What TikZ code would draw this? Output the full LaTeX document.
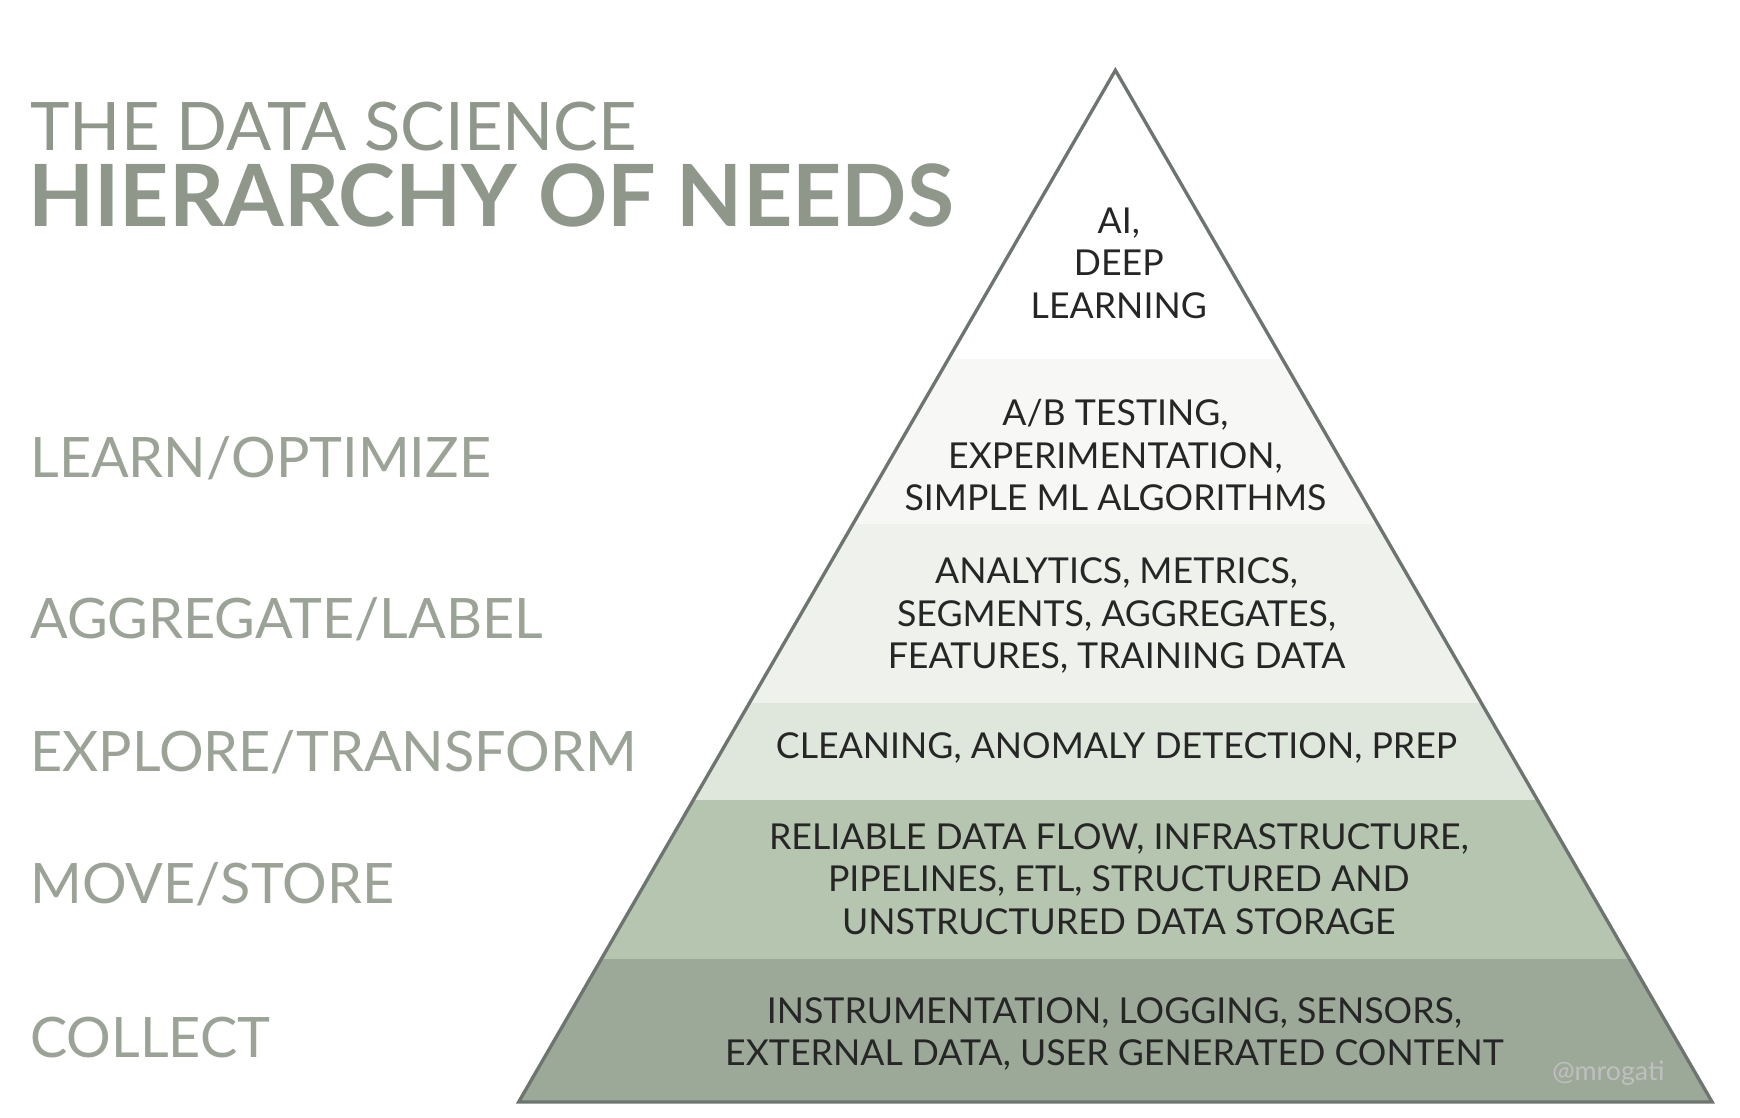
\documentclass[tikz,border=0pt]{standalone}
\usepackage{fontspec}
\setmainfont{Lato}
\begin{document}
\begin{tikzpicture}[x=1pt,y=-1pt,
  lab/.style={anchor=base west,inner sep=0pt,text=labgray,font=\fontsize{50}{54}\selectfont},
  ptxt/.style={align=center,inner sep=0pt,font=\fontsize{32}{38}\selectfont,text=black!85}]
\definecolor{labgray}{HTML}{9AA396}
\definecolor{titlegray}{HTML}{8E978A}
\definecolor{b2}{HTML}{F7F8F6}
\definecolor{b3}{HTML}{EEF1EC}
\definecolor{b4}{HTML}{DFE7DC}
\definecolor{b5}{HTML}{B6C5AF}
\definecolor{b6}{HTML}{9CA998}
\definecolor{edge}{HTML}{6E7570}
\useasboundingbox (0,0) rectangle (1560,1002);
\fill[white] (0,0) rectangle (1560,1002);
\coordinate (apex) at (1000,63);
\coordinate (bl) at (465,988);
\coordinate (br) at (1535,988);
\begin{scope}
\clip (apex) -- (bl) -- (br) -- cycle;
\fill[white] (400,0) rectangle (1600,322);
\fill[b2] (400,322) rectangle (1600,470);
\fill[b3] (400,470) rectangle (1600,630);
\fill[b4] (400,630) rectangle (1600,717);
\fill[b5] (400,717) rectangle (1600,860);
\fill[b6] (400,860) rectangle (1600,1000);
\end{scope}
\draw[edge,line width=3,line join=miter] (apex) -- (bl) -- (br) -- cycle;
\node[lab,font=\fontsize{60}{60}\selectfont,text=titlegray] (t1) at (27,135) {THE DATA SCIENCE};
\node[lab,font=\fontsize{77}{77}\selectfont\bfseries,text=titlegray] (t2) at (25,203) {HIERARCHY OF NEEDS};
\node[lab] (l1) at (27,428) {LEARN/OPTIMIZE};
\node[lab] (l2) at (27,572) {AGGREGATE/LABEL};
\node[lab] (l3) at (27,692) {EXPLORE/TRANSFORM};
\node[lab] (l4) at (27,810) {MOVE/STORE};
\node[lab] (l5) at (27,948) {COLLECT};
\node[ptxt] (p1) at (1003,236) {AI,\\DEEP\\LEARNING};
\node[ptxt] (p2) at (1000,408) {A/B TESTING,\\EXPERIMENTATION,\\SIMPLE ML ALGORITHMS};
\node[ptxt] (p3) at (1001,552) {ANALYTICS, METRICS,\\SEGMENTS, AGGREGATES,\\FEATURES, TRAINING DATA};
\node[ptxt] (p4) at (1001,671) {CLEANING, ANOMALY DETECTION, PREP};
\node[ptxt] (p5) at (1003,788) {RELIABLE DATA FLOW, INFRASTRUCTURE,\\PIPELINES, ETL, STRUCTURED AND\\UNSTRUCTURED DATA STORAGE};
\node[ptxt] (p6) at (999,927) {INSTRUMENTATION, LOGGING, SENSORS,\\EXTERNAL DATA, USER GENERATED CONTENT};
\node[inner sep=0pt,text=white!75!black,font=\fontsize{24}{26}\selectfont] (w) at (1442,962) {@mrogati};
\end{tikzpicture}
\end{document}
